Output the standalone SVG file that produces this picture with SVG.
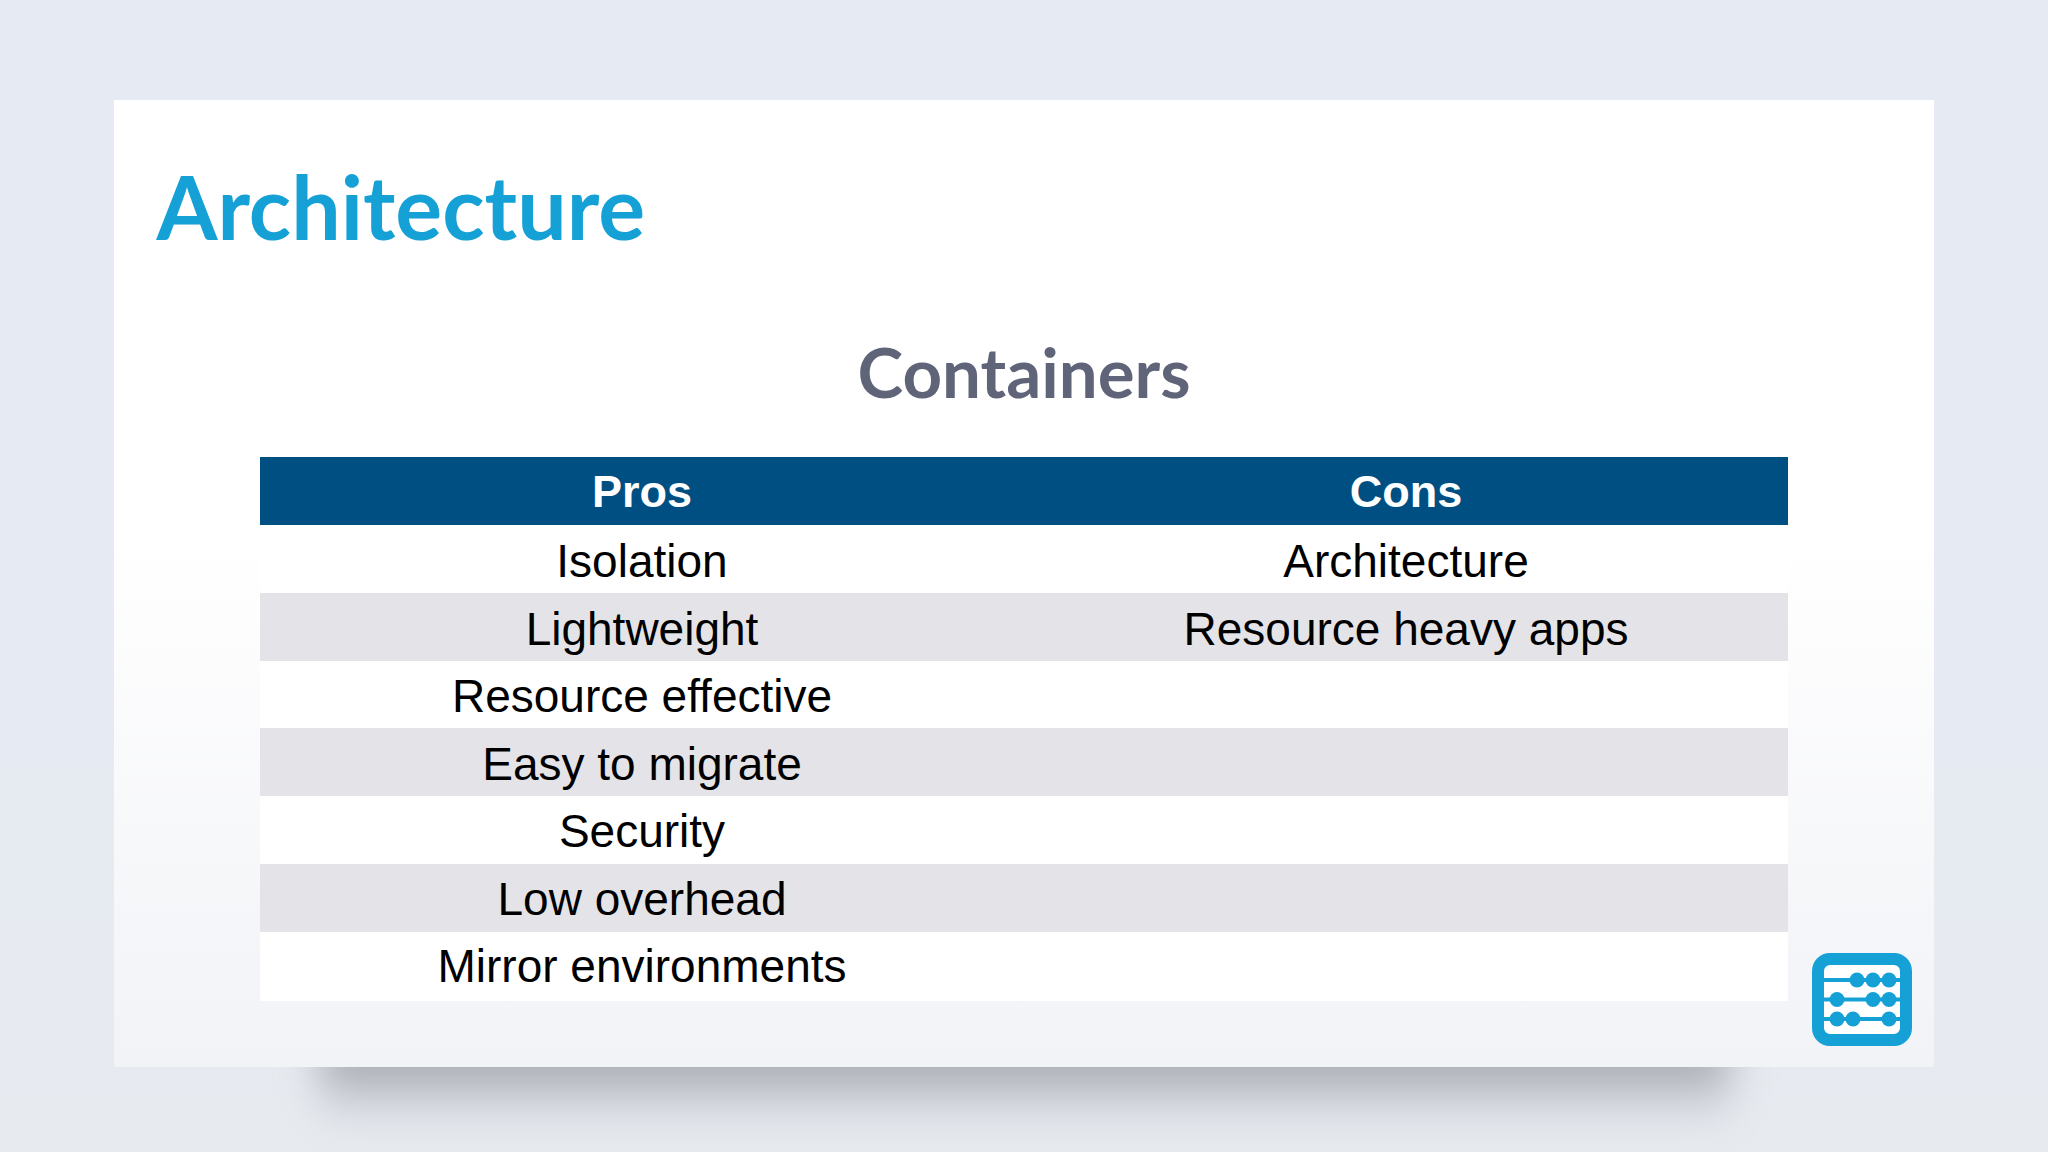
<svg xmlns="http://www.w3.org/2000/svg" width="2048" height="1152" viewBox="0 0 2048 1152">
<style>
.h{font:bold 45px "Liberation Sans",Arial,sans-serif;fill:#fff;text-anchor:middle}
.c{font:46px "Liberation Sans",Arial,sans-serif;fill:#000;text-anchor:middle}
.bead{fill:#16a1d6}
.rod{stroke:#16a1d6;stroke-width:4;fill:none}
</style>
<defs>
<linearGradient id="bg" x1="0" y1="0" x2="0" y2="1"><stop offset="0.6" stop-color="#e6ebf3"/><stop offset="1" stop-color="#e7eaef"/></linearGradient>
<linearGradient id="slide" x1="0" y1="0" x2="0" y2="1"><stop offset="0.45" stop-color="#fff"/><stop offset="1" stop-color="#f2f3f7"/></linearGradient>
<linearGradient id="sh" x1="0" y1="0" x2="0" y2="1"><stop offset="0" stop-color="#85888f"/><stop offset="0.5" stop-color="#bfc2c9"/><stop offset="1" stop-color="#e6ebf1"/></linearGradient>
<filter id="blur" x="-5%" y="-50%" width="110%" height="200%"><feGaussianBlur stdDeviation="20"/></filter>
</defs>
<rect width="2048" height="1152" fill="url(#bg)"/>
<rect x="320" y="1040" width="1410" height="85" fill="url(#sh)" filter="url(#blur)"/>
<rect x="114" y="100" width="1820" height="967" fill="url(#slide)"/>
<text x="156.500" y="240" font-family="Lato,sans-serif" font-weight="700" font-size="87.800" fill="#16a1d6">Architecture</text>
<text x="1024" y="398" text-anchor="middle" font-family="Lato,sans-serif" font-weight="700" font-size="69" fill="#5f6479">Containers</text>
<g id="table">
<rect x="260" y="457" width="1528" height="544" fill="#fff"/>
<rect x="260" y="457" width="1528" height="68" fill="#004f83"/>
<rect x="260" y="593" width="1528" height="68" fill="#e4e4e8"/>
<rect x="260" y="728" width="1528" height="68" fill="#e4e4e8"/>
<rect x="260" y="864" width="1528" height="68" fill="#e4e4e8"/>
<text class="h" x="642" y="507">Pros</text>
<text class="h" x="1406" y="507">Cons</text>
<text class="c" x="642" y="577">Isolation</text>
<text class="c" x="1406" y="577">Architecture</text>
<text class="c" x="642" y="645">Lightweight</text>
<text class="c" x="1406" y="645">Resource heavy apps</text>
<text class="c" x="642" y="712">Resource effective</text>
<text class="c" x="642" y="780">Easy to migrate</text>
<text class="c" x="642" y="847">Security</text>
<text class="c" x="642" y="915">Low overhead</text>
<text class="c" x="642" y="982">Mirror environments</text>
</g>
<g id="abacus">
<rect x="1818" y="959" width="88" height="81" rx="12" fill="#fff" stroke="#16a1d6" stroke-width="12"/>
<path class="rod" d="M1824 980H1900M1824 999.500H1900M1824 1019H1900"/>
<circle class="bead" cx="1857" cy="980" r="7.500"/><circle class="bead" cx="1873" cy="980" r="7.500"/><circle class="bead" cx="1889" cy="980" r="7.500"/>
<circle class="bead" cx="1837" cy="999.500" r="7.500"/><circle class="bead" cx="1873" cy="999.500" r="7.500"/><circle class="bead" cx="1889" cy="999.500" r="7.500"/>
<circle class="bead" cx="1837" cy="1019" r="7.500"/><circle class="bead" cx="1853" cy="1019" r="7.500"/><circle class="bead" cx="1889" cy="1019" r="7.500"/>
</g>
</svg>
